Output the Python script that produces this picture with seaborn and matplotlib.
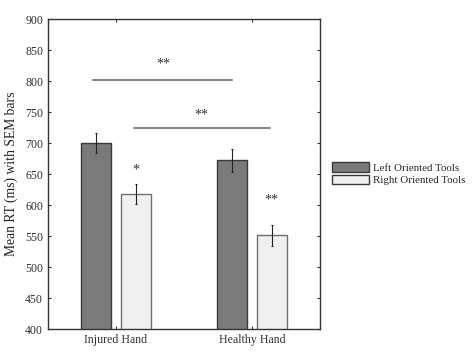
import matplotlib
matplotlib.use("Agg")
import matplotlib.pyplot as plt
import seaborn as sns
import numpy as np
import pandas as pd

# data
hands = ["Injured Hand", "Healthy Hand"]
orientations = ["Left Oriented Tools", "Right Oriented Tools"]
left_rt = [700, 672]
right_rt = [618, 551]
left_sem = [16, 19]
right_sem = [16, 17]
yticks = [400, 450, 500, 550, 600, 650, 700, 750, 800, 850, 900]

df = pd.DataFrame({
    "hand": hands * 2,
    "orientation": [orientations[0]] * 2 + [orientations[1]] * 2,
    "rt": left_rt + right_rt,
})

sns.set_style("white")
plt.rcParams['font.family'] = ['Liberation Serif', 'DejaVu Serif']

fig = plt.figure(figsize=(4.74, 3.61), dpi=100)
ax = fig.add_axes([0.101, 0.0886, 0.574, 0.8584])

palette = {orientations[0]: "#7a7a7a", orientations[1]: "#f0f0f0"}
sns.barplot(data=df, x="hand", y="rt", hue="orientation", order=hands,
            hue_order=orientations, palette=palette, width=0.58, gap=0.24,
            errorbar=None, edgecolor="#3a3a3a", linewidth=1.0, saturation=1,
            ax=ax)
for bar in ax.containers[1]:
    bar.set_edgecolor("#707070")

# SEM error bars from the bar positions
for cont, sems in zip(ax.containers, [left_sem, right_sem]):
    xs = [p.get_x() + p.get_width() / 2 for p in cont]
    ys = [p.get_height() for p in cont]
    ax.errorbar(xs, ys, yerr=sems, fmt="none", ecolor="#222222",
                elinewidth=0.8, capsize=1, capthick=0.8)

ax.set_ylim(400, 900)
ax.set_xlim(-0.5, 1.5)
ax.set_yticks(yticks)
ax.set_xlabel("")
ax.set_ylabel("Mean RT (ms) with SEM bars", fontsize=9.8, color="#222222",
              labelpad=5)
ax.tick_params(axis="both", direction="in", length=2, labelsize=8.6,
               colors="#333333", right=True, top=True, left=True, bottom=True,
               width=0.8)
for s in ax.spines.values():
    s.set_color("#333333")
    s.set_linewidth(1.0)

# significance markers
star_kw = dict(ha="center", va="center", fontsize=10, color="#333333")
ax.plot([-0.17, 0.85], [802, 802], color="#888888", lw=1.5)
ax.text(0.35, 828, "**", **star_kw)
ax.plot([0.13, 1.13], [724, 724], color="#888888", lw=1.5)
ax.text(0.63, 745, "**", **star_kw)
ax.text(0.145, 657, "*", **star_kw)
ax.text(1.145, 608, "**", **star_kw)

handles, labels = ax.get_legend_handles_labels()
ax.legend(handles, labels, loc="upper left", bbox_to_anchor=(1.03, 0.552),
          frameon=False, fontsize=7.8, handlelength=3.4, handleheight=0.95,
          handletextpad=0.3, labelspacing=0.2, borderaxespad=0)

fig.savefig("out.png", dpi=100)
